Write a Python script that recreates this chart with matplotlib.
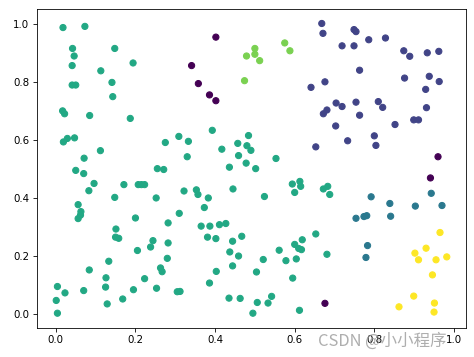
import matplotlib
matplotlib.use("Agg")
import matplotlib.pyplot as plt
import numpy as np

# noise points (label -1)
noise_x = [0.402, 0.341, 0.358, 0.386, 0.402, 0.960, 0.941, 0.676]
noise_y = [0.954, 0.856, 0.794, 0.755, 0.735, 0.542, 0.469, 0.037]

# cluster 0 (blue, top right)
c0_x = [0.668, 0.671, 0.749, 0.754, 0.786, 0.828, 0.719, 0.749, 0.874, 0.889,
        0.933, 0.962, 0.763, 0.876, 0.938, 0.963, 0.929, 0.641, 0.676, 0.704,
        0.719, 0.681, 0.672, 0.754, 0.763, 0.810, 0.821, 0.931, 0.703, 0.852,
        0.899, 0.911, 0.800, 0.804, 0.733, 0.653]
c0_y = [1.001, 0.967, 0.980, 0.973, 0.945, 0.951, 0.924, 0.924, 0.907, 0.888,
        0.900, 0.905, 0.840, 0.813, 0.819, 0.801, 0.774, 0.781, 0.800, 0.727,
        0.715, 0.703, 0.690, 0.730, 0.685, 0.732, 0.712, 0.711, 0.648, 0.653,
        0.669, 0.669, 0.614, 0.581, 0.597, 0.576]

# cluster 1 (teal)
c1_x = [0.792, 0.754, 0.774, 0.781, 0.839, 0.841, 0.903, 0.943, 0.970, 0.783, 0.779]
c1_y = [0.404, 0.330, 0.336, 0.339, 0.381, 0.337, 0.372, 0.416, 0.374, 0.236, 0.195]

# cluster 2 (green, large)
c2_x = [0.018, 0.073, 0.042, 0.046, 0.041, 0.148, 0.194, 0.113, 0.041, 0.050,
        0.141, 0.143, 0.017, 0.022, 0.085, 0.187, 0.019, 0.029, 0.047, 0.112,
        0.071, 0.050, 0.070, 0.255, 0.271, 0.275, 0.309, 0.333, 0.330, 0.393,
        0.417, 0.436, 0.457, 0.459, 0.484, 0.480, 0.490, 0.478, 0.502, 0.553,
        0.096, 0.171, 0.207, 0.215, 0.223, 0.083, 0.056, 0.063, 0.062, 0.056,
        0.148, 0.252, 0.200, 0.322, 0.353, 0.357, 0.383, 0.373, 0.310, 0.282,
        0.365, 0.387, 0.411, 0.427, 0.445, 0.524, 0.594, 0.613, 0.615, 0.600,
        0.672, 0.683, 0.688,
        0.151, 0.150, 0.158, 0.244, 0.238, 0.282, 0.205, 0.280, 0.263, 0.267,
        0.223, 0.253, 0.305, 0.312, 0.381, 0.402, 0.444, 0.467, 0.437, 0.459,
        0.444, 0.403, 0.386, 0.435, 0.463, 0.506, 0.533, 0.542, 0.495, 0.521,
        0.504, 0.561, 0.578, 0.600, 0.619, 0.610, 0.617, 0.604, 0.653, 0.681,
        0.595, 0.612,
        0.084, 0.133, 0.126, 0.125, 0.129, 0.070, 0.195, 0.168, 0.004, 0.023,
        0.001, 0.004]
c2_y = [0.987, 0.991, 0.915, 0.889, 0.856, 0.915, 0.865, 0.838, 0.789, 0.789,
        0.798, 0.749, 0.700, 0.690, 0.684, 0.674, 0.593, 0.605, 0.607, 0.563,
        0.537, 0.495, 0.484, 0.501, 0.498, 0.591, 0.612, 0.595, 0.542, 0.633,
        0.568, 0.506, 0.588, 0.546, 0.615, 0.580, 0.564, 0.520, 0.501, 0.536,
        0.450, 0.446, 0.446, 0.446, 0.446, 0.425, 0.377, 0.353, 0.341, 0.329,
        0.402, 0.400, 0.331, 0.424, 0.428, 0.412, 0.400, 0.367, 0.347, 0.314,
        0.303, 0.303, 0.308, 0.312, 0.431, 0.405, 0.448, 0.457, 0.440, 0.419,
        0.431, 0.440, 0.412,
        0.293, 0.265, 0.261, 0.253, 0.231, 0.245, 0.219, 0.192, 0.159, 0.146,
        0.122, 0.089, 0.077, 0.078, 0.265, 0.260, 0.251, 0.268, 0.214, 0.200,
        0.166, 0.147, 0.107, 0.055, 0.054, 0.040, 0.038, 0.061, 0.003, 0.188,
        0.145, 0.220, 0.184, 0.240, 0.256, 0.226, 0.222, 0.190, 0.276, 0.206,
        0.124, 0.013,
        0.152, 0.182, 0.125, 0.093, 0.035, 0.081, 0.084, 0.052, 0.095, 0.073,
        0.047, 0.003]

# cluster 3 (light green)
c3_x = [0.500, 0.479, 0.500, 0.512, 0.575, 0.588, 0.474]
c3_y = [0.915, 0.889, 0.895, 0.873, 0.934, 0.907, 0.804]

# cluster 4 (yellow)
c4_x = [0.965, 0.930, 0.902, 0.911, 0.955, 0.982, 0.946, 0.899, 0.862, 0.951, 0.950]
c4_y = [0.281, 0.227, 0.210, 0.187, 0.187, 0.197, 0.135, 0.062, 0.025, 0.038, 0.007]

groups = [(noise_x, noise_y, -1), (c0_x, c0_y, 0), (c1_x, c1_y, 1),
          (c2_x, c2_y, 2), (c3_x, c3_y, 3), (c4_x, c4_y, 4)]

xs, ys, labels = [], [], []
for gx, gy, lab in groups:
    xs += gx
    ys += gy
    labels += [lab] * len(gx)

dpi = 74
fig = plt.figure(figsize=(474 / dpi, 357 / dpi), dpi=dpi)
ax = fig.add_axes([36.7 / 474, (357 - 327.7) / 357, (466.3 - 36.7) / 474, (327.7 - 9) / 357])
ax.scatter(xs, ys, c=labels, cmap="viridis")

fig.text(318 / 474, 1 - 341 / 357, "CSDN @小小程序", color="#9a9a9a", alpha=0.8,
         fontsize=16, va="center", ha="left",
         family=["Noto Sans CJK SC", "DejaVu Sans"])

fig.savefig("out.png", dpi=dpi)
